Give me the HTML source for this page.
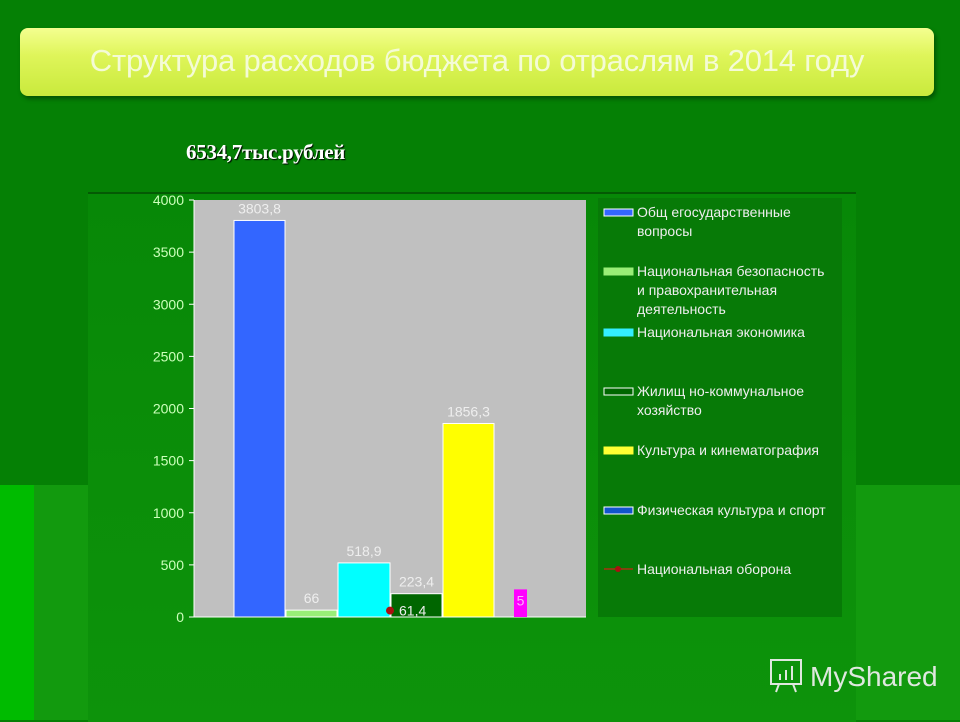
<!DOCTYPE html>
<html><head><meta charset="utf-8">
<style>
html,body{margin:0;padding:0}
body{width:960px;height:720px;position:relative;overflow:hidden;background:#058005;font-family:"Liberation Sans",sans-serif}
.abs{position:absolute}
#banner{left:20px;top:28px;width:914px;height:68px;border-radius:8px;background:linear-gradient(#f4ff90,#dff55a 40%,#c9ea3c);box-shadow:2px 3px 4px rgba(0,0,0,0.35)}
#title{left:20px;top:43px;width:914px;text-align:center;color:#f4fbd6;font-size:31px;letter-spacing:-0.2px}
#sub{left:186px;top:140px;color:#fff;font-family:"Liberation Serif",serif;font-size:21px;font-weight:bold;text-shadow:1px 1px 1px #000;letter-spacing:-0.3px}
</style></head>
<body>
<div class="abs" style="left:0;top:485px;width:34px;height:235px;background:#00bb00"></div>
<div class="abs" style="left:34px;top:485px;width:926px;height:235px;background:#129a0e"></div>
<div class="abs" style="left:88px;top:192px;width:768px;height:528px;background:linear-gradient(#078807,#0b8e09 55%,#0d930b);border-top:2px solid #045a04"></div>
<div class="abs" id="banner"></div>
<div class="abs" id="title">Структура расходов бюджета по отраслям в 2014 году</div>
<div class="abs" id="sub">6534,7тыс.рублей</div>
<svg class="abs" style="left:0;top:0" width="960" height="720">
<rect x="598" y="198" width="244" height="419" fill="#077a07"/>
<rect x="194" y="200" width="392" height="417" fill="#c0c0c0"/>
<g id="axes"></g><g id="bars"></g><g id="legend"></g>
<g fill="none" stroke="#dfe8df" stroke-width="2">
<rect x="771" y="660" width="30" height="24"/><line x1="779" y1="684" x2="776" y2="692"/><line x1="793" y1="684" x2="796" y2="692"/>
<line x1="780" y1="680" x2="780" y2="674"/><line x1="786" y1="680" x2="786" y2="670"/><line x1="792" y1="680" x2="792" y2="666"/></g>
<text x="810" y="686" fill="#dfe8df" font-size="28" font-family="Liberation Sans">MyShared</text>
</svg>
<script>
const categories=["Общегосударственные вопросы","Национальная безопасность","Национальная экономика","Жилищно-коммунальное хозяйство","Культура и кинематография","Физическая культура и спорт"];
const values=[3803.8,66,518.9,223.4,1856.3,265];
const valueLabels=["3803,8","66","518,9","223,4","1856,3","5"];
const defenseValue=[61.4];
const defenseLabel=["61,4"];
const yTicks=[0,500,1000,1500,2000,2500,3000,3500,4000];
const NS="http://www.w3.org/2000/svg";
const y0=617,y1=200,yMax=4000;
function yS(v){return y0-(v/yMax)*(y0-y1);}
const colors=["#3366ff","#99ee77","#00ffff","#006600","#ffff00","#ff00ff"];
const bx=[234,286,338,391,443,514], bw=[51,51,52,51,51,13];
function mk(tag,attrs,parent){const e=document.createElementNS(NS,tag);for(const k in attrs)e.setAttribute(k,attrs[k]);parent.appendChild(e);return e;}
const axes=document.getElementById('axes'),bars=document.getElementById('bars'),leg=document.getElementById('legend');
let a=mk('line',{x1:194,y1:200,x2:194,y2:617,stroke:'#fff'},axes);

a=mk('line',{x1:194,y1:617,x2:586,y2:617,stroke:'#fff'},axes);

yTicks.forEach(t=>{const y=yS(t);
 const l=mk('line',{x1:189,y1:y,x2:194,y2:y,stroke:'#fff'},axes);
 
 const tx=mk('text',{x:184,y:y+5,'text-anchor':'end',fill:'#ccffbb','font-size':14},axes);tx.textContent=t;
 });
values.forEach((v,i)=>{const y=yS(v);
 const r=mk('rect',{x:bx[i],y:y,width:bw[i],height:y0-y,fill:colors[i],stroke:i==5?'none':'#fff','stroke-width':1},bars);
 
 const t=mk('text',{x:bx[i]+bw[i]/2,y:i==5?y+16:y-7,'text-anchor':'middle',fill:i==5?'#ffaaff':'#eeeeee','font-size':14},bars);t.textContent=valueLabels[i];
 });
const dy=yS(defenseValue[0]);
let c=mk('circle',{cx:390,cy:dy,r:4,fill:'#aa1111'},bars);

let dt=mk('text',{x:399,y:dy+5,fill:'#eeeeee','font-size':14},bars);dt.textContent=defenseLabel[0];

const legItems=[[["Общ егосударственные","вопросы"],212,"#3366ff","#fff"],[["Национальная безопасность","и правохранительная","деятельность"],271,"#99ee77","#99ee77"],[["Национальная экономика"],332,"#33eeff","#33eeff"],[["Жилищ но-коммунальное","хозяйство"],391,"#006600","#fff"],[["Культура и кинематография"],450,"#ffff33","#ffff33"],[["Физическая культура и спорт"],510,"#1155cc","#fff"]];
legItems.forEach((it,i)=>{
 const r=mk('rect',{x:604,y:it[1]-3,width:29,height:7,fill:it[2],stroke:it[3],'stroke-width':1},leg);
 
 it[0].forEach((s,j)=>{const t=mk('text',{x:637,y:it[1]+5+j*19,fill:'#eeeeee','font-size':14},leg);t.textContent=s;
  });});
let ll=mk('line',{x1:604,y1:569,x2:633,y2:569,stroke:'#aa3311','stroke-width':1.5},leg);

let lc=mk('circle',{cx:618,cy:569,r:3,fill:'#aa1111'},leg);

let lt=mk('text',{x:637,y:574,fill:'#eeeeee','font-size':14},leg);lt.textContent="Национальная оборона";

</script>
</body></html>
